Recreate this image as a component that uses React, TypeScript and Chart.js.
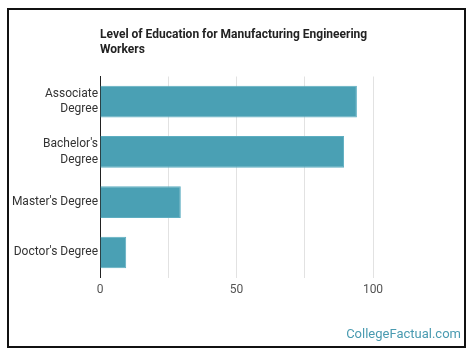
import React, { useEffect, useRef } from "react";
import { Chart, registerables } from "chart.js";

Chart.register(...registerables);

const categories: (string | string[])[] = [
  ["Associate", "Degree"],
  ["Bachelor's", "Degree"],
  "Master's Degree",
  "Doctor's Degree",
];
const values: number[] = [94.1, 89.4, 29.6, 9.6];
const titleLines: string[] = ["Level of Education for Manufacturing Engineering", "Workers"];
const xTickStep = 25;
const xLabelStep = 50;
const xMax = 120;
const watermark = "CollegeFactual.com";

const FONT = "Roboto, 'Noto Sans', Arial, sans-serif";

export default function App() {
  const ref = useRef<HTMLCanvasElement | null>(null);

  useEffect(() => {
    if (!ref.current) return;
    const chart = new Chart(ref.current, {
      type: "bar",
      data: {
        labels: categories,
        datasets: [
          {
            data: values,
            backgroundColor: "#4aa0b4",
            borderColor: "#5eaec1",
            borderWidth: 1,
            barPercentage: 0.63,
            categoryPercentage: 1,
          },
        ],
      },
      options: {
        indexAxis: "y",
        responsive: false,
        animation: false,
        devicePixelRatio: 1,
        layout: { padding: { left: 8, right: 48.4, top: 0, bottom: 54 } },
        plugins: {
          legend: { display: false },
          tooltip: { enabled: false },
          title: {
            display: true,
            text: titleLines,
            align: "start",
            fullSize: false,
            color: "#222",
            font: { family: FONT, size: 12, weight: "bold", lineHeight: 1.28 },
            padding: { top: 27, bottom: 18.8 },
          },
        },
        scales: {
          x: {
            min: 0,
            max: xMax,
            border: { display: false },
            grid: { color: "#e2e2e2", drawTicks: false, lineWidth: 1 },
            afterBuildTicks: (scale: any) => {
              scale.ticks = scale.ticks.filter((t: any) => t.value % xTickStep === 0);
            },
            ticks: {
              stepSize: xTickStep,
              padding: 5.5,
              color: "#555",
              font: { family: FONT, size: 12, lineHeight: 1.2 },
              maxRotation: 0,
              autoSkip: false,
              callback: (v: any) => (Number(v) % xLabelStep === 0 ? String(v) : ""),
            },
          },
          y: {
            border: { display: true, color: "#222", width: 1 },
            grid: { display: false, drawTicks: false },
            afterFit: (scale: any) => {
              scale.width = 92;
            },
            ticks: {
              padding: 2,
              color: "#333",
              font: { family: FONT, size: 12, lineHeight: 1.3 },
            },
          },
        },
      },
    });
    return () => chart.destroy();
  }, []);

  return (
    <div style={{ position: "fixed", left: 0, top: 0, width: 476, height: 357, background: "#fff" }}>
      <div
        style={{
          position: "absolute",
          left: 7,
          top: 8,
          width: 459,
          height: 340,
          boxSizing: "border-box",
          border: "2px solid #111",
        }}
      />
      <canvas
        ref={ref}
        width={476}
        height={357}
        style={{ position: "absolute", left: 0, top: 0, width: 476, height: 357 }}
      />
      <div
        style={{
          position: "absolute",
          right: 15,
          top: 326,
          fontFamily: FONT,
          fontSize: 13,
          lineHeight: "16px",
          color: "#4a9bb1",
          whiteSpace: "nowrap",
        }}
      >
        {watermark}
      </div>
    </div>
  );
}
